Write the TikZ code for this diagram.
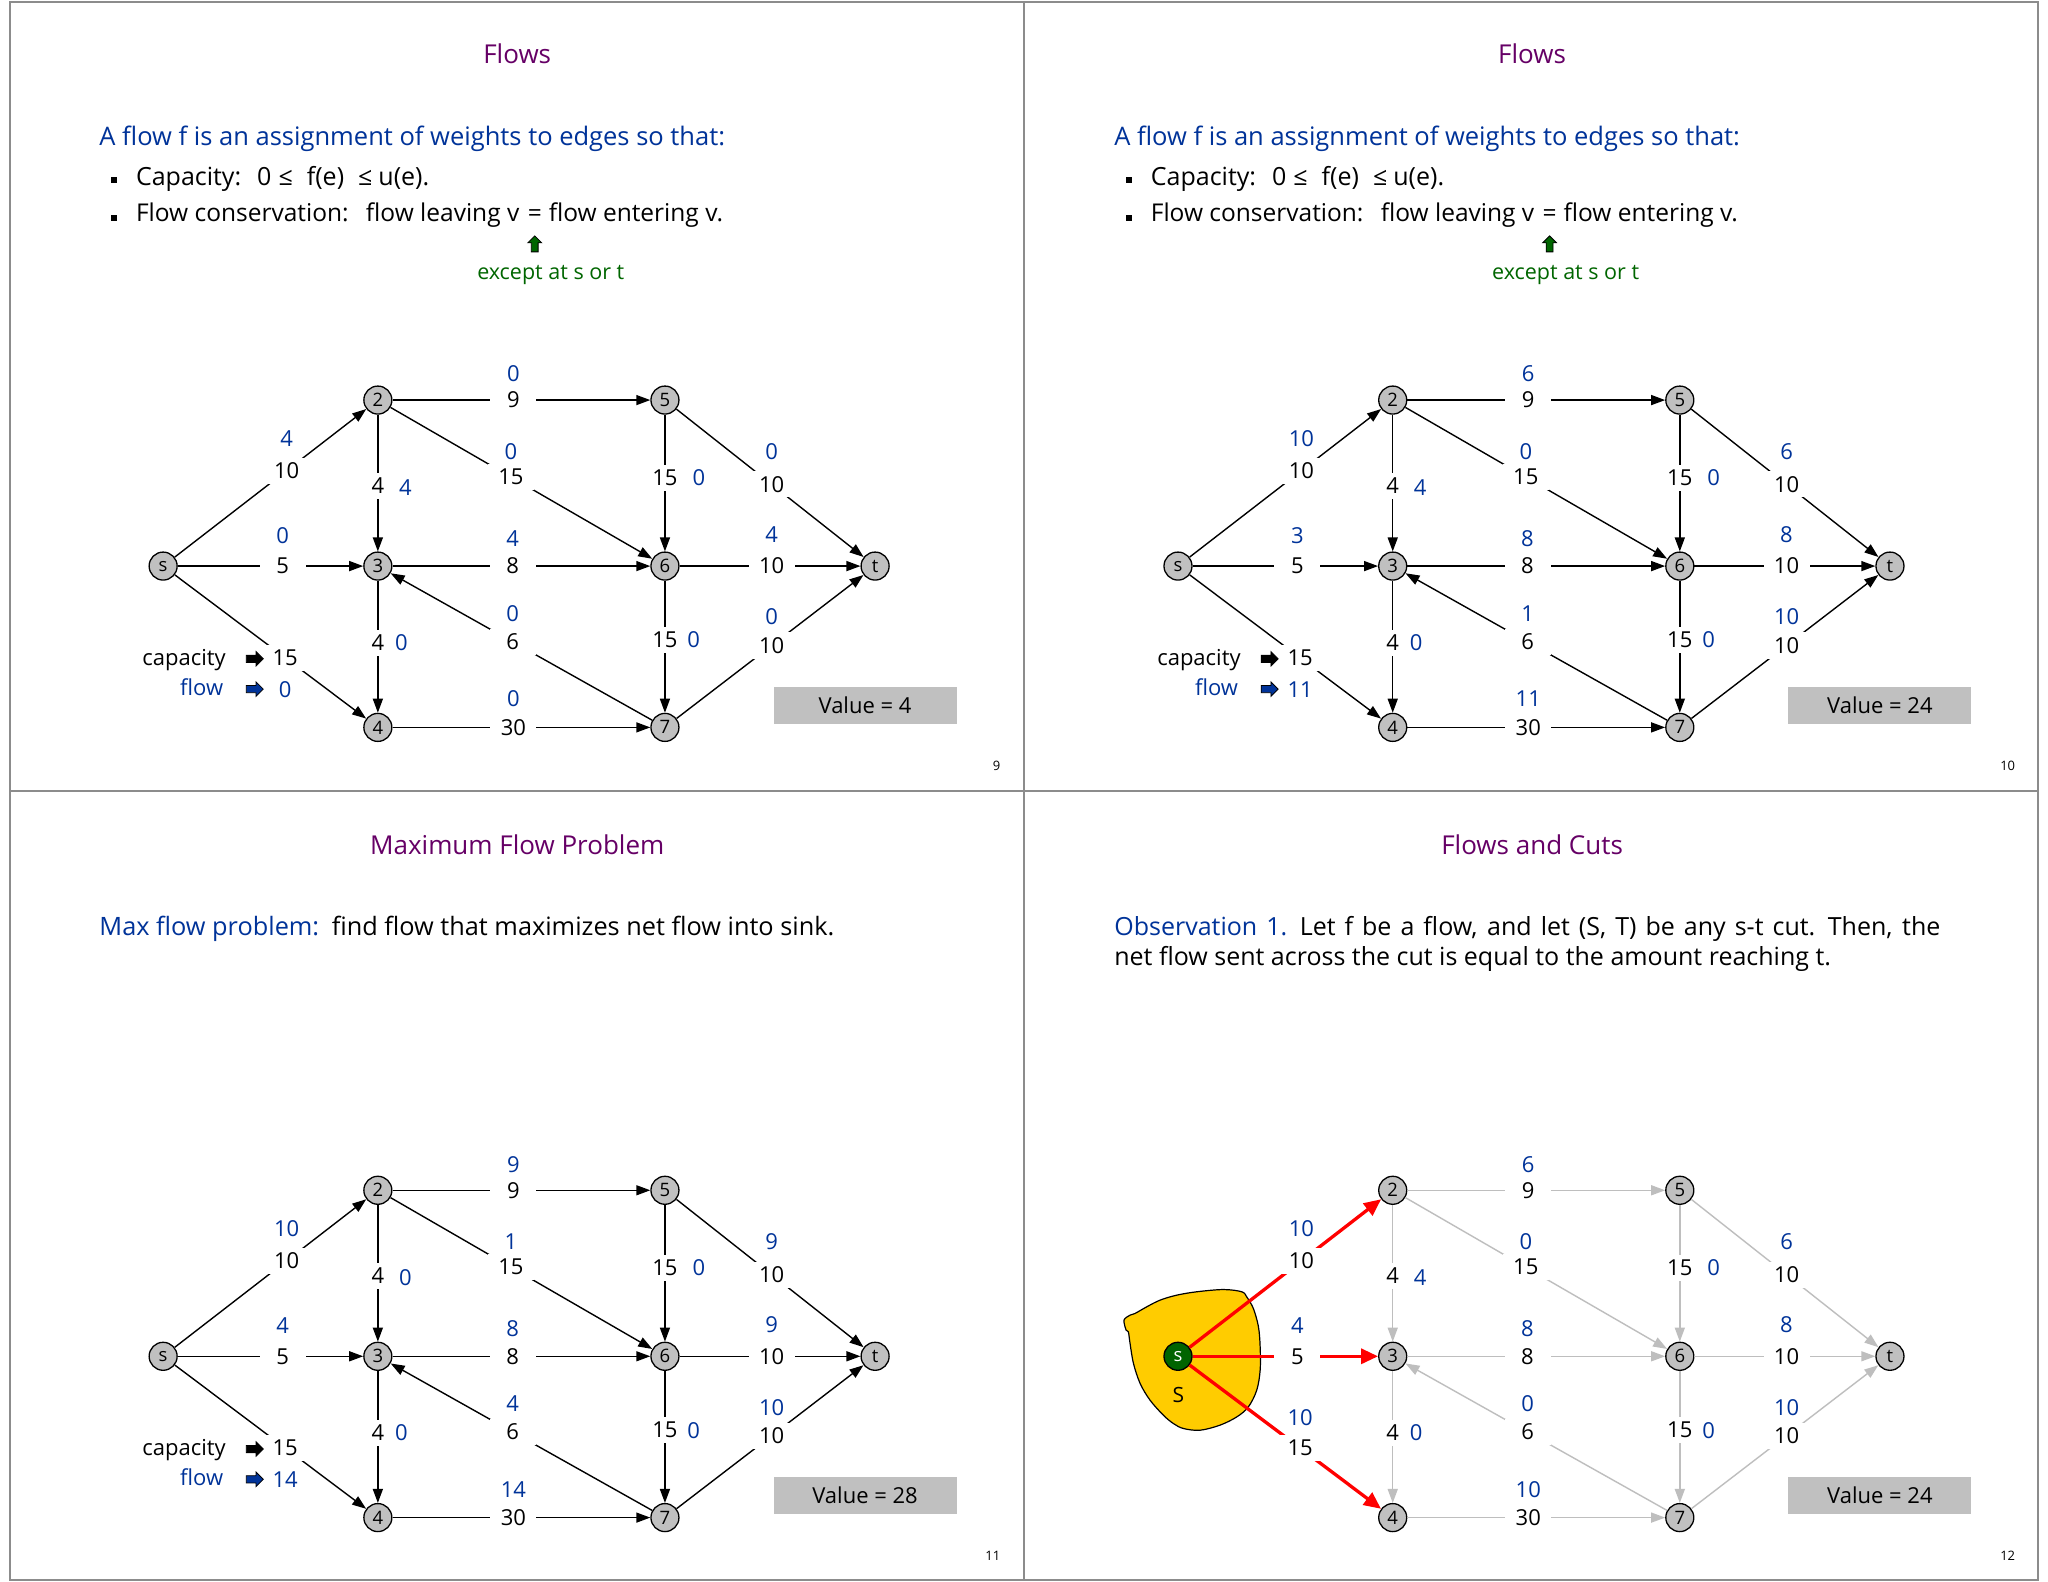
\documentclass[tikz,border=0pt]{standalone}
\usepackage{fontspec}
\setmainfont{Open Sans}
\usetikzlibrary{arrows.meta,shapes.arrows,calc}

\definecolor{ttlpurple}{RGB}{102,0,102}
\definecolor{txtblue}{RGB}{0,51,153}
\definecolor{txtgreen}{RGB}{0,102,0}
\definecolor{nodegray}{RGB}{192,192,192}
\definecolor{edgegray}{RGB}{190,190,190}
\definecolor{blobyellow}{RGB}{255,204,0}
\definecolor{srcgreen}{RGB}{0,100,0}
\definecolor{framegray}{RGB}{140,140,140}

\newcommand{\myTitleFont}{\fontsize{26}{30}\selectfont}
\newcommand{\myBodyFont}{\fontsize{25}{30}\selectfont}
\newcommand{\myLabFont}{\fontsize{22}{24}\selectfont}
\newcommand{\myNodeFont}{\fontsize{18.5}{18.5}\selectfont}
\newcommand{\myNoteFont}{\fontsize{21.5}{24}\selectfont}
\newcommand{\myPgFont}{\fontsize{13}{13}\selectfont}

\newcommand{\mySetFlows}[9]{\def\fsTwo{#1}\def\fsThree{#2}\def\fsFour{#3}\def\fTwoFive{#4}\def\fTwoThree{#5}\def\fTwoSix{#6}\def\fThreeSix{#7}\def\fSevenThree{#8}\def\fThreeFour{#9}}
\newcommand{\mySetFlowsB}[6]{\def\fFourSeven{#1}\def\fFiveSix{#2}\def\fFiveT{#3}\def\fSixT{#4}\def\fSixSeven{#5}\def\fSevenT{#6}}

% #1 prefix, #2 edge style, #3 source-edge style, #4 source-node style, #5 dy of s-4 flow label
\newcommand{\drawgraph}[5]{%
\node[vtx,#4] (#1s) at (124.9,433.4) {s};
\node[vtx] (#12) at (289.3,306.3) {2};
\node[vtx] (#13) at (289.3,433.4) {3};
\node[vtx] (#14) at (289.3,556.9) {4};
\node[vtx] (#15) at (509.1,306.3) {5};
\node[vtx] (#16) at (509.1,433.4) {6};
\node[vtx] (#17) at (509.1,556.9) {7};
\node[vtx] (#1t) at (670,433.4) {t};
\draw[#3] (#1s) -- node[capl,pos=.584] (#1Ls2) {10} (#12);
\draw[#3] (#1s) -- node[capl,pos=.565] (#1Ls3) {5} (#13);
\draw[#3] (#1s) -- node[capl,pos=.577] (#1Ls4) {15} (#14);
\draw[#2] (#12) -- node[capl,pos=.469] (#1L25) {9} (#15);
\draw[#2] (#12) -- node[capl,pos=.519] (#1L23) {4} (#13);
\draw[#2] (#12) -- node[capl,pos=.46] (#1L26) {15} (#16);
\draw[#2] (#13) -- node[capl,pos=.466] (#1L36) {8} (#16);
\draw[#2] (#17) -- node[capl,pos=.533] (#1L73) {6} (#13);
\draw[#2] (#13) -- node[capl,pos=.47] (#1L34) {4} (#14);
\draw[#2] (#14) -- node[capl,pos=.469] (#1L47) {30} (#17);
\draw[#2] (#15) -- node[capl,pos=.46] (#1L56) {15} (#16);
\draw[#2] (#15) -- node[capl,pos=.509] (#1L5t) {10} (#1t);
\draw[#2] (#16) -- node[capl,pos=.509] (#1L6t) {10} (#1t);
\draw[#2] (#16) -- node[capl,pos=.449] (#1L67) {15} (#17);
\draw[#2] (#17) -- node[capl,pos=.509] (#1L7t) {10} (#1t);
\node[flo] (#1Fs2) at ($(#1Ls2)+(0,-24.5)$) {\fsTwo};
\node[flo] (#1Fs3) at ($(#1Ls3)+(0,-23.4)$) {\fsThree};
\node[flo] (#1Fs4) at ($(#1Ls4)+(0,#5)$) {\fsFour};
\node[flo] (#1F25) at ($(#1L25)+(0,-20)$) {\fTwoFive};
\node[flo] (#1F23) at ($(#1L23)+(21,1.5)$) {\fTwoThree};
\node[flo] (#1F26) at ($(#1L26)+(0,-19.5)$) {\fTwoSix};
\node[flo] (#1F36) at ($(#1L36)+(0,-21.2)$) {\fThreeSix};
\node[flo] (#1F73) at ($(#1L73)+(0,-21.5)$) {\fSevenThree};
\node[flo] (#1F34) at ($(#1L34)+(18,0)$) {\fThreeFour};
\node[flo] (#1F47) at ($(#1L47)+(0,-21.7)$) {\fFourSeven};
\node[flo] (#1F56) at ($(#1L56)+(26,0)$) {\fFiveSix};
\node[flo] (#1F5t) at ($(#1L5t)+(0,-25)$) {\fFiveT};
\node[flo] (#1F6t) at ($(#1L6t)+(0,-24.3)$) {\fSixT};
\node[flo] (#1F67) at ($(#1L67)+(22,0)$) {\fSixSeven};
\node[flo] (#1F7t) at ($(#1L7t)+(0,-21.7)$) {\fSevenT};
\node[valbox] (#1val) at (662.3,540.1) {Value = \myVal};
}

\newcommand{\drawlegend}[1]{%
\node[lab,anchor=base east] (#1capt) at (173,509.2) {capacity};
\node[legarrow,fill=black] (#1capa) at (193.7,504.4) {};
\node[lab,anchor=base east,text=txtblue] (#1flot) at (171,532.2) {flow};
\node[legarrow,fill=txtblue] (#1floa) at (193.7,527.6) {};
}

\newcommand{\flowstext}[1]{%
\node[ttl] (#1ttl) at (396,48.5) {Flows};
\node[body,text=txtblue,font=\fontsize{25.5}{30}\selectfont] (#1intro) at (76,111.6) {A flow f is an assignment of weights to edges so that:};
\node[bulletsq] (#1b1) at (87.5,137.8) {};
\node[body] (#1capline) at (104,141.7) {Capacity:\hspace{16pt}0\hspace{7pt}≤\hspace{14pt}f(e)\hspace{14pt}≤\hspace{6pt}u(e).};
\node[bulletsq] (#1b2) at (87.5,166.6) {};
\node[body,font=\fontsize{24.5}{30}\selectfont] (#1cons) at (104,169.7) {\makebox[229.9pt][l]{Flow conservation:}\makebox[161.9pt][l]{flow leaving v}\makebox[20.9pt][l]{=}flow entering v.};
\node[uparrow] (#1up) at (409.4,188) {};
\node[note] (#1exc) at (421.7,213.9) {except at s or t};
}

\begin{document}
\begin{tikzpicture}[x=1.306pt,y=-1.306pt,
  vtx/.style={circle,draw=black,line width=1.3pt,fill=nodegray,minimum size=28pt,inner sep=0pt,font=\myNodeFont},
  srcnode/.style={fill=srcgreen,text=white},
  ed/.style={line width=1.4pt,draw=black,-{Triangle[length=14pt,width=10pt]}},
  ged/.style={line width=1.4pt,draw=edgegray,-{Triangle[length=14pt,width=10pt]}},
  redge/.style={line width=3.3pt,draw=red,-{Triangle[length=17pt,width=15pt]}},
  capl/.style={fill=white,text=black,inner xsep=8pt,inner ysep=5pt,minimum width=46pt,font=\myLabFont},
  flo/.style={text=txtblue,inner sep=0pt,font=\myLabFont},
  lab/.style={inner sep=0pt,font=\myLabFont},
  valbox/.style={fill=nodegray,minimum width=183pt,minimum height=37.4pt,inner sep=0pt,font=\myLabFont},
  legarrow/.style={single arrow,draw=black,line width=0.8pt,inner xsep=0pt,inner ysep=3.2pt,single arrow head extend=3.6pt,minimum height=17pt,single arrow head indent=0pt},
  uparrow/.style={single arrow,shape border rotate=90,fill=txtgreen,draw=black,line width=0.8pt,inner sep=3pt,single arrow head extend=3.5pt,minimum height=16pt},
  ttl/.style={font=\myTitleFont,text=ttlpurple,anchor=base,inner sep=0pt},
  body/.style={font=\myBodyFont,anchor=base west,inner sep=0pt},
  note/.style={font=\myNoteFont,text=txtgreen,anchor=base,inner sep=0pt},
  bulletsq/.style={fill=black,minimum size=6pt,inner sep=0pt},
  pg/.style={font=\myPgFont,anchor=base east,inner sep=0pt}]

\fill[white] (0,0) rectangle (1568,1211);
\useasboundingbox (0,0) rectangle (1568,1211);
\draw[framegray,line width=2pt] (7.5,1.3) rectangle (1560.6,1209.8);
\draw[framegray,line width=2pt] (784,1.3) -- (784,1209.8);
\draw[framegray,line width=2pt] (7.5,605.6) -- (1560.6,605.6);

% ---------- panel 1 ----------
\begin{scope}
\flowstext{A}
\mySetFlows{4}{0}{0}{0}{4}{0}{4}{0}{0}
\mySetFlowsB{0}{0}{0}{4}{0}{0}
\def\myVal{4}
\drawgraph{A}{ed}{ed}{}{24}
\drawlegend{A}
\node[pg] (Apg) at (766,589.7) {9};
\end{scope}

% ---------- panel 2 ----------
\begin{scope}[shift={(777,0)}]
\flowstext{B}
\mySetFlows{10}{3}{11}{6}{4}{0}{8}{1}{0}
\mySetFlowsB{11}{0}{6}{8}{0}{10}
\def\myVal{24}
\drawgraph{B}{ed}{ed}{}{24}
\drawlegend{B}
\node[pg] (Bpg) at (766,589.7) {10};
\end{scope}

% ---------- panel 3 ----------
\begin{scope}[shift={(0,605)}]
\node[ttl] (Cttl) at (396,49.5) {Maximum Flow Problem};
\node[body,font=\fontsize{25.3}{30}\selectfont] (Cintro) at (76,111.6) {\textcolor{txtblue}{Max flow problem:}\enspace find flow that maximizes net flow into sink.};
\mySetFlows{10}{4}{14}{9}{0}{1}{8}{4}{0}
\mySetFlowsB{14}{0}{9}{9}{0}{10}
\def\myVal{28}
\drawgraph{C}{ed}{ed}{}{24}
\drawlegend{C}
\node[pg] (Cpg) at (766,589.7) {11};
\end{scope}

% ---------- panel 4 ----------
\draw[fill=blobyellow,line width=1.2pt] plot[smooth cycle,tension=0.55] coordinates {
 (860.6,1010.7) (865.2,1006.9) (869.0,1005.6) (878.0,1000.5) (888.2,995.4) (900.9,991.6)
 (916.3,989.0) (936.7,987.3) (950.7,989.0) (954.5,992.9) (959.6,1001.8) (963.5,1015.8)
 (964.8,1031.2) (964.8,1049.0) (962.2,1064.3) (955.8,1077.1) (946.9,1084.8) (934.1,1091.1)
 (918.8,1095.0) (906.1,1093.7) (898.4,1089.9) (890.7,1083.5) (880.5,1072.0) (872.9,1059.2)
 (867.8,1043.9) (865.2,1028.6) (863.9,1019.7) (862.2,1018.4)};
\begin{scope}[shift={(777,605)}]
\node[ttl] (Dttl) at (396,49.5) {Flows and Cuts};
\node[body] (Dl1) at (76,111.6) {\makebox[826pt][s]{\textcolor{txtblue}{Observation 1.}\enspace Let f be a flow, and let (S, T) be any s-t cut.\enspace Then, the}};
\node[body] (Dl2) at (76,133.9) {net flow sent across the cut is equal to the amount reaching t.};
\node[lab,font=\fontsize{21}{22}\selectfont] (DS) at (125.2,463) {S};
\mySetFlows{10}{4}{10}{6}{4}{0}{8}{0}{0}
\mySetFlowsB{10}{0}{6}{8}{0}{10}
\def\myVal{24}
\drawgraph{D}{ged}{redge}{srcnode}{-23.5}
\node[pg] (Dpg) at (766,589.7) {12};
\end{scope}

\end{tikzpicture}
\end{document}
